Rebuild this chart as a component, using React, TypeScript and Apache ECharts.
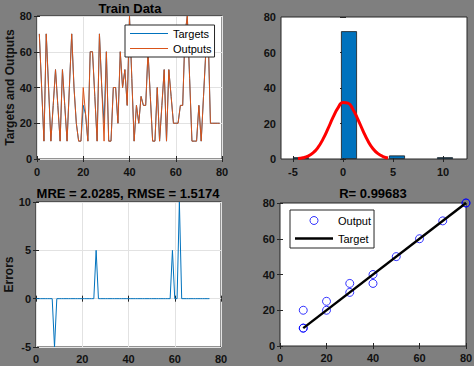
import React, { useEffect, useRef } from "react";
import * as echarts from "echarts";

// ---------- data ----------
const trainOutputs = [
  70, 40, 10, 70, 40, 10, 30, 50, 30, 10,
  50, 30, 10, 40, 70, 40, 20, 10, 10, 40,
  25, 10, 60, 60, 35, 10, 70, 40, 10, 60,
  10, 10, 40, 40, 20, 60, 40, 50, 30, 80,
  45, 10, 30, 20, 35, 30, 30, 60, 35, 10,
  10, 40, 10, 30, 50, 10, 50, 35, 20, 20,
  20, 30, 30, 70, 80, 45, 10, 10, 10, 30,
  10, 35, 60, 70, 20, 20, 20, 20, 20,
];
const trainTargets = [
  70, 40, 10, 70, 40, 10, 30, 50, 30, 10,
  50, 30, 10, 40, 70, 40, 20, 10, 10, 30,
  25, 10, 60, 60, 35, 10, 70, 40, 20, 60,
  10, 10, 40, 40, 20, 60, 40, 50, 30, 80,
  45, 10, 30, 20, 35, 30, 30, 60, 35, 10,
  10, 40, 10, 30, 50, 10, 50, 35, 20, 20,
  20, 30, 30, 70, 80, 45, 10, 10, 10, 30,
  10, 35, 60, 70, 20, 20, 20, 20, 20,
];
const errorValues = [
  0, 0, 0, 0, 0, 0, 0, 0, -5, 0,
  0, 0, 0, 0, 0, 0, 0, 0, 0, 0,
  0, 0, 0, 0, 0, 0, 5, 0, 0, 0,
  0, 0, 0, 0, 0, 0, 0, 0, 0, 0,
  0, 0, 0, 0, 0, 0, 0, 0, 0, 0,
  0, 0, 0, 0, 0, 0, 0, 0, 0, 5,
  0, 0, 10, 0, 0, 0, 0, 0, 0, 0,
  0, 0, 0, 0, 0, 0,
];
const histCenters = [-4.2, 0.6, 5.4, 10.2];
const histCounts = [1, 72, 2, 1];
const fitX = [-4.5, -4, -3.5, -3, -2.5, -2, -1.5, -1, -0.5, 0, 0.5, 1, 1.5, 2, 2.5, 3, 3.5, 4, 4.5];
const fitY = [0.3, 0.7, 1.6, 3.4, 6.5, 11.2, 17.1, 23.4, 28.8, 31.8, 31.5, 27.9, 22.2, 15.9, 10.1, 5.8, 3.0, 1.4, 0.6];
const outputX = [10, 10, 10, 20, 20, 30, 30, 40, 40, 50, 60, 70, 80, 80];
const outputY = [10, 10, 20, 20, 25, 30, 35, 40, 35, 50, 60, 70, 80, 80];
const targetX = [10, 80];
const targetY = [10, 80];
const histTicks = [-5, 0, 5, 10];

const titleTrain = "Train Data";
const titleErr = "MRE = 2.0285, RMSE = 1.5174";
const titleReg = "R= 0.99683";

// ---------- styles ----------
const FONT = '"Liberation Sans", Arial, Helvetica, sans-serif';
const INK = "#111111";
const BOX = "#262626";
const GRIDLINE = "#e2e2e2";
const THIN_LINE_ICON = "path://M0,0 L38,0 L38,1.2 L0,1.2 Z";
const THICK_LINE_ICON = "path://M0,0 L38,0 L38,2.5 L0,2.5 Z";

const grids = [
  { left: 37, top: 16, width: 185, height: 143 },
  { left: 281, top: 17, width: 186, height: 142 },
  { left: 36, top: 202, width: 185, height: 145 },
  { left: 280, top: 203, width: 186, height: 143 },
];

type AxOpt = {
  min: number;
  max: number;
  interval?: number;
  custom?: number[];
  split?: boolean;
  mirror?: boolean;
  margin?: number;
  name?: string;
  nameGap?: number;
};

function mkAxis(kind: "x" | "y", gridIndex: number, o: AxOpt) {
  const ax: any = {
    type: "value",
    gridIndex,
    min: o.min,
    max: o.max,
    position: o.mirror ? (kind === "x" ? "top" : "right") : kind === "x" ? "bottom" : "left",
    axisLine: { show: false },
    axisTick: {
      show: true,
      inside: true,
      length: 3,
      lineStyle: { color: BOX, width: 1 },
    },
    axisLabel: {
      show: !o.mirror,
      margin: o.margin ?? 5,
      color: INK,
      fontSize: 11,
      fontWeight: "bold",
      fontFamily: FONT,
      showMinLabel: true,
      showMaxLabel: true,
    },
    splitLine: { show: !!o.split && !o.mirror, lineStyle: { color: GRIDLINE, width: 1 } },
  };
  if (o.interval !== undefined) ax.interval = o.interval;
  if (o.custom) {
    ax.axisTick.customValues = o.custom;
    ax.axisLabel.customValues = o.custom;
  }
  if (o.name) {
    ax.name = o.name;
    ax.nameLocation = "middle";
    ax.nameGap = o.nameGap;
    ax.nameTextStyle = { fontSize: 12, fontWeight: "bold", color: INK, fontFamily: FONT };
  }
  return ax;
}

export default function App() {
  const ref = useRef<HTMLDivElement>(null);

  useEffect(() => {
    document.body.style.margin = "0";
    if (!ref.current) return;
    const chart = echarts.init(ref.current, undefined, { renderer: "svg" });

    const xSpecs: AxOpt[] = [
      { min: 0, max: 80, interval: 20, split: true, margin: 7 },
      { min: -6.2, max: 12.4, custom: histTicks, margin: 7 },
      { min: 0, max: 80, interval: 20, split: true, margin: 6 },
      { min: 0, max: 80, interval: 20, margin: 6 },
    ];
    const ySpecs: AxOpt[] = [
      { min: 0, max: 80, interval: 20, split: true, name: "Targets and Outputs", nameGap: 21 },
      { min: 0, max: 80, interval: 20 },
      { min: -5, max: 10, interval: 5, split: true, name: "Errors", nameGap: 21 },
      { min: 0, max: 80, interval: 20 },
    ];

    const xAxis = [
      ...xSpecs.map((s, i) => mkAxis("x", i, s)),
      ...xSpecs.map((s, i) => mkAxis("x", i, { ...s, mirror: true, name: undefined })),
    ];
    const yAxis = [
      ...ySpecs.map((s, i) => mkAxis("y", i, s)),
      ...ySpecs.map((s, i) => mkAxis("y", i, { ...s, mirror: true, name: undefined })),
    ];

    const legendCommon = {
      orient: "vertical",
      backgroundColor: "#ffffff",
      borderColor: BOX,
      borderWidth: 1,
      borderRadius: 0,
      selectedMode: false,
      itemWidth: 38,
      textStyle: { fontSize: 11, color: "#000", fontFamily: FONT },
    };

    const option: any = {
      animation: false,
      backgroundColor: "#7f7f7f",
      textStyle: { fontFamily: FONT },
      grid: grids.map((g) => ({
        ...g,
        show: true,
        backgroundColor: "#ffffff",
        borderColor: BOX,
        borderWidth: 1,
        containLabel: false,
        outerBoundsMode: "none",
      })),
      xAxis,
      yAxis,
      legend: [
        {
          ...legendCommon,
          data: [
            {
              name: "Targets",
              icon: THIN_LINE_ICON,
              itemStyle: { color: "#0072BD", borderColor: "#0072BD", borderWidth: 0 },
            },
            {
              name: "Outputs",
              icon: THIN_LINE_ICON,
              itemStyle: { color: "#D95319", borderColor: "#D95319", borderWidth: 0 },
            },
          ],
          left: 125,
          top: 25,
          itemHeight: 10,
          itemGap: 4,
          padding: [3, 3, 3, 5],
        },
        {
          ...legendCommon,
          data: [
            {
              name: "Output",
              icon: "circle",
              itemStyle: { color: "rgba(0,0,0,0)", borderColor: "#0000ff", borderWidth: 1 },
            },
            {
              name: "Target",
              icon: THICK_LINE_ICON,
              itemStyle: { color: "#000000", borderColor: "#000000", borderWidth: 0 },
            },
          ],
          left: 290,
          top: 210,
          itemHeight: 8,
          itemGap: 7,
          padding: [5, 3, 4, 5],
        },
      ],
      graphic: [
        {
          type: "text",
          x: 130,
          y: 8,
          style: {
            text: titleTrain,
            fontSize: 13,
            fontWeight: "bold",
            fontFamily: FONT,
            fill: "#000",
            align: "center",
            verticalAlign: "middle",
          },
        },
        {
          type: "text",
          x: 128,
          y: 193,
          style: {
            text: titleErr,
            fontSize: 13,
            fontWeight: "bold",
            fontFamily: FONT,
            fill: "#000",
            align: "center",
            verticalAlign: "middle",
          },
        },
        {
          type: "text",
          x: 373,
          y: 193,
          style: {
            text: titleReg,
            fontSize: 13,
            fontWeight: "bold",
            fontFamily: FONT,
            fill: "#000",
            align: "center",
            verticalAlign: "middle",
          },
        },
      ],
      series: [
        {
          type: "line",
          name: "Targets",
          xAxisIndex: 0,
          yAxisIndex: 0,
          data: trainTargets.map((v, i) => [i + 1, v]),
          symbol: "none",
          lineStyle: { color: "#0072BD", width: 1 },
          itemStyle: { color: "#0072BD" },
        },
        {
          type: "line",
          name: "Outputs",
          xAxisIndex: 0,
          yAxisIndex: 0,
          data: trainOutputs.map((v, i) => [i + 1, v]),
          symbol: "none",
          lineStyle: { color: "#D95319", width: 1 },
          itemStyle: { color: "#D95319" },
        },
        {
          type: "bar",
          name: "Histogram",
          xAxisIndex: 1,
          yAxisIndex: 1,
          data: histCenters.map((c, i) => [c, histCounts[i]]),
          barWidth: 16,
          itemStyle: { color: "#0072BD", borderColor: "#1a1a1a", borderWidth: 0.8 },
        },
        {
          type: "line",
          name: "Fit",
          xAxisIndex: 1,
          yAxisIndex: 1,
          data: fitX.map((x, i) => [x, fitY[i]]),
          smooth: true,
          symbol: "none",
          lineStyle: { color: "#ff0000", width: 3 },
          z: 5,
        },
        {
          type: "line",
          name: "Errors",
          xAxisIndex: 2,
          yAxisIndex: 2,
          data: errorValues.map((v, i) => [i, v]),
          symbol: "none",
          lineStyle: { color: "#0072BD", width: 1 },
        },
        {
          type: "scatter",
          name: "Output",
          xAxisIndex: 3,
          yAxisIndex: 3,
          data: outputX.map((x, i) => [x, outputY[i]]),
          symbol: "circle",
          symbolSize: 8,
          itemStyle: { color: "rgba(0,0,0,0)", borderColor: "#0000ff", borderWidth: 1 },
        },
        {
          type: "line",
          name: "Target",
          xAxisIndex: 3,
          yAxisIndex: 3,
          data: targetX.map((x, i) => [x, targetY[i]]),
          symbol: "none",
          lineStyle: { color: "#000000", width: 2.5 },
          itemStyle: { color: "#000000" },
          z: 4,
        },
      ],
    };

    chart.setOption(option);
    return () => chart.dispose();
  }, []);

  return <div ref={ref} style={{ width: 474, height: 366 }} />;
}
